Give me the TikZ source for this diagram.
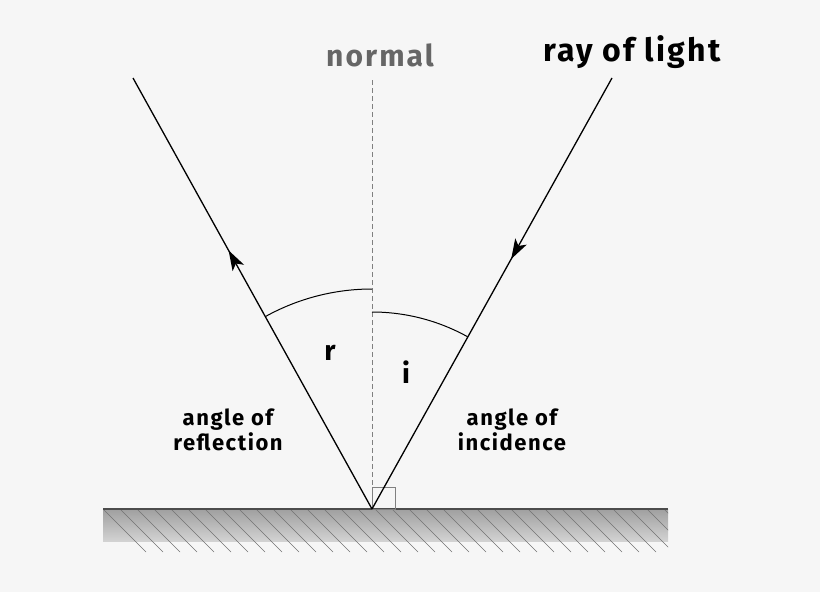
\documentclass[tikz,border=0pt]{standalone}
\usepackage{fontspec}
\setmainfont{Fira Sans}[LetterSpace=7]
\usetikzlibrary{decorations.markings,arrows.meta}
\begin{document}
\begin{tikzpicture}[x=1pt,y=-1pt,
  ray/.style={line width=1.3pt,black},
  lbl/.style={font=\bfseries\fontsize{22}{25}\selectfont,align=center,text=black},
  arcs/.style={line width=1pt,black},
  midarrow/.style={postaction={decorate},decoration={markings,mark=at position #1 with {\arrow{Stealth[length=20pt,width=13pt,inset=5pt]}}}}]
\useasboundingbox (0,0) rectangle (820,592);
\fill[gray!7] (0,0) rectangle (820,592);
\coordinate (O) at (372,509);
\coordinate (A) at (612,78);
\coordinate (B) at (133,78);
\coordinate (N) at (372,80);
% surface
\shade[top color=gray!75,bottom color=gray!35] (103,509) rectangle (668,541);
\begin{scope}
\clip (103,509) rectangle (668,552);
\foreach \x in {103,120,...,680}{
  \draw[black!55,line width=0.6pt] (\x,509) -- ++(43,43);
}
\end{scope}
\draw[line width=1.8pt,black!70] (103,509) -- (668,509);
% normal
\draw[gray,line width=0.8pt,dash pattern=on 5pt off 3pt] (N) -- (O);
\draw[gray,line width=0.8pt] (372,487) rectangle (395,509);
% rays
\draw[ray,midarrow=0.42] (A) -- (O);
\draw[ray,midarrow=0.6] (O) -- (B);
% arcs
\draw[arcs] (372,289) arc[start angle=-90,end angle=-119,radius=220];
\draw[arcs] (372,312) arc[start angle=-90,end angle=-61,radius=197];
% labels
\node[lbl,text=gray!80!black,font=\bfseries\fontsize{30}{32}\selectfont] (nl) at (380,55) {normal};
\node[lbl,font=\bfseries\fontsize{32}{34}\selectfont] (rl) at (632,52) {ray of light};
\node[lbl,font=\bfseries\fontsize{28}{30}\selectfont] (r) at (330,353) {r};
\node[lbl,font=\bfseries\fontsize{28}{30}\selectfont] (i) at (406,372) {i};
\node[lbl] (ar) at (228,430) {angle of\\reflection};
\node[lbl] (ai) at (512,430) {angle of\\incidence};
\end{tikzpicture}
\end{document}
